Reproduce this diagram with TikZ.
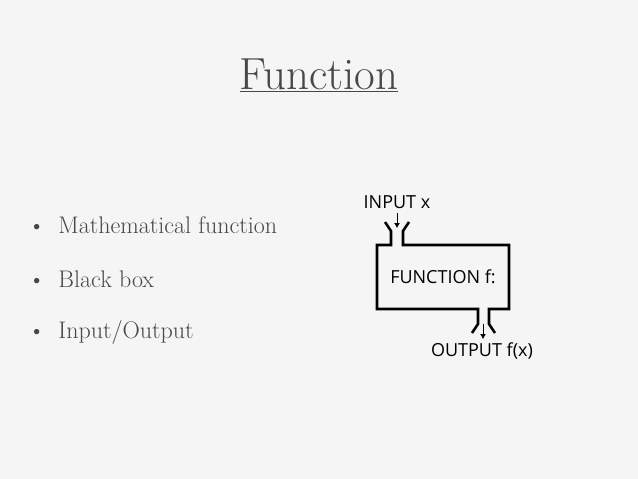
\documentclass[tikz,border=0pt]{standalone}
\usepackage{fontspec}
\usetikzlibrary{arrows.meta}
\newfontfamily\dsans{Open Sans}
\begin{document}
\begin{tikzpicture}[x=1pt,y=-1pt,
  txt/.style={inner sep=0pt,text=black!72},
  bul/.style={txt,anchor=west,font=\fontsize{24}{26}\selectfont},
  lab/.style={inner sep=0pt,font=\dsans\fontsize{18}{20}\selectfont},
  wall/.style={line width=2.6pt,line join=miter},
  arr/.style={-{Latex[length=5pt,width=6pt]},line width=0.8pt}]
\useasboundingbox[fill=black!4] (0,0) rectangle (638,479);
\node[txt,font=\fontsize{45}{48}\selectfont] (title) at (319,75) {\underline{Function}};
\node[bul] (b1) at (28,225) {\textbullet\hspace{13pt}Mathematical function};
\node[bul] (b2) at (28,279) {\textbullet\hspace{13pt}Black box};
\node[bul] (b3) at (28,332) {\textbullet\hspace{13pt}Input/Output};
\draw[wall] (385,222) -- (391,231) -- (391,245) -- (377,245) -- (377,309) -- (478,309) -- (478,324) -- (472,333);
\draw[wall] (409,222) -- (403,231) -- (403,245) -- (509,245) -- (509,309) -- (489,309) -- (489,324) -- (495,333);
\node[lab] (in) at (397,202) {INPUT x};
\node[lab] (fn) at (443,277) {FUNCTION f:};
\node[lab] (out) at (482,351) {OUTPUT f(x)};
\coordinate (ia) at (397,213);
\coordinate (ib) at (397,228);
\coordinate (oa) at (483,324);
\coordinate (ob) at (483,339);
\draw[arr] (ia) -- (ib);
\draw[arr] (oa) -- (ob);
\end{tikzpicture}
\end{document}
